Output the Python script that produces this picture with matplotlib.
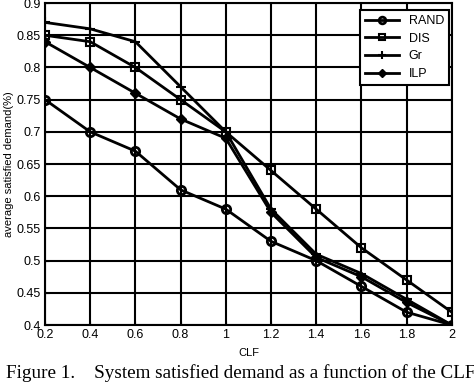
import matplotlib.pyplot as plt

clf = [0.2, 0.4, 0.6, 0.8, 1.0, 1.2, 1.4, 1.6, 1.8, 2.0]
rand = [0.75, 0.70, 0.67, 0.61, 0.58, 0.53, 0.50, 0.46, 0.42, 0.40]
dis = [0.85, 0.84, 0.80, 0.75, 0.70, 0.64, 0.58, 0.52, 0.47, 0.42]
gr = [0.87, 0.86, 0.84, 0.77, 0.70, 0.58, 0.51, 0.48, 0.44, 0.40]
ilp = [0.84, 0.80, 0.76, 0.72, 0.69, 0.575, 0.505, 0.475, 0.435, 0.40]

xticks = [0.2, 0.4, 0.6, 0.8, 1, 1.2, 1.4, 1.6, 1.8, 2]
xticklabels = ["0.2", "0.4", "0.6", "0.8", "1", "1.2", "1.4", "1.6", "1.8", "2"]
yticks = [0.4, 0.45, 0.5, 0.55, 0.6, 0.65, 0.7, 0.75, 0.8, 0.85, 0.9]
yticklabels = ["0.4", "0.45", "0.5", "0.55", "0.6", "0.65", "0.7", "0.75", "0.8", "0.85", "0.9"]

plt.rcParams["font.family"] = ["Liberation Sans", "DejaVu Sans"]

fig = plt.figure(figsize=(4.74, 3.86), dpi=100)
ax = fig.add_axes([0.095, 0.158, 0.858, 0.834])

ax.plot(clf, rand, color="black", lw=2, marker="o", ms=6, mfc="none", mew=2, label="RAND")
ax.plot(clf, dis, color="black", lw=2, marker="s", ms=6, mfc="none", mew=1.5, label="DIS")
ax.plot(clf, gr, color="black", lw=2, marker="+", ms=7, mew=1.5, label="Gr")
ax.plot(clf, ilp, color="black", lw=2, marker="D", ms=5, mfc="black", label="ILP")

ax.set_xlim(0.2, 2)
ax.set_ylim(0.4, 0.9)
ax.set_xticks(xticks)
ax.set_xticklabels(xticklabels)
ax.set_yticks(yticks)
ax.set_yticklabels(yticklabels)
ax.tick_params(direction="in", labelsize=9, length=3, pad=3)
ax.grid(True, color="black", lw=1.5)
for s in ax.spines.values():
    s.set_linewidth(1.5)

ax.set_xlabel("CLF", fontsize=8, labelpad=5)
ax.set_ylabel("average satisfied demand(%)", fontsize=8, labelpad=2)

leg = ax.legend(loc="upper right", bbox_to_anchor=(0.993, 0.978), fontsize=9,
                frameon=True, fancybox=False, markerscale=0.8,
                edgecolor="black", framealpha=1, handlelength=2.7,
                borderaxespad=0, labelspacing=0.45)
leg.get_frame().set_linewidth(1.5)

fig.text(0.012, 1 - 364 / 386, "Figure 1.    System satisfied demand as a function of the CLF",
         fontsize=13.8, family=["Liberation Serif", "DejaVu Serif"], ha="left", va="top")

fig.savefig("out.png", dpi=100)
